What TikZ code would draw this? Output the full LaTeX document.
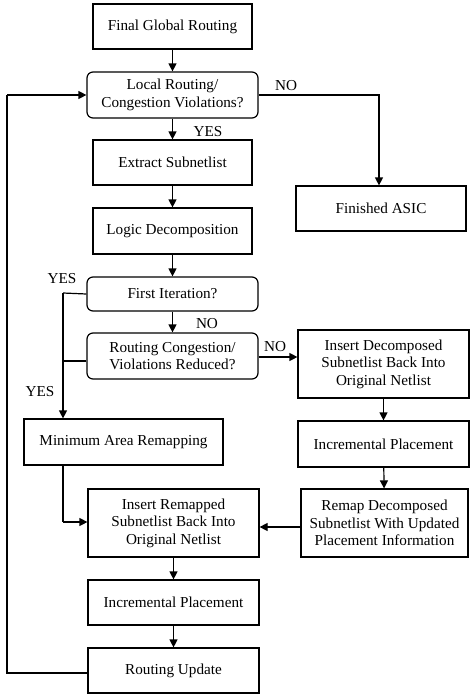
\documentclass[tikz,border=0pt]{standalone}
\usepackage{fontspec}
\setmainfont{Liberation Serif}
\usetikzlibrary{arrows.meta}
\begin{document}
\begin{tikzpicture}[x=1pt,y=-1pt,
  every node/.style={font=\fontsize{15.2}{17.6}\selectfont},
  box/.style={draw,line width=1.2pt,align=center,inner sep=0pt,minimum width=#1},
  rbox/.style={box=#1,rounded corners=6pt},
  lbl/.style={inner sep=0pt},
  arr/.style={line width=1.2pt,-{Triangle[length=8pt,width=8pt]}},
  ln/.style={line width=1.2pt}]
\useasboundingbox (0,0) rectangle (474,696);
\node[box=159pt,minimum height=45pt] (final) at (172.5,26.5) {Final Global Routing};
\node[rbox=171pt,minimum height=46pt] (local) at (172.5,95) {Local Routing/\\Congestion Violations?};
\node[box=159pt,minimum height=45pt] (extract) at (172.5,162.5) {Extract Subnetlist};
\node[box=159pt,minimum height=46pt] (logic) at (172.5,231) {Logic Decomposition};
\node[rbox=171pt,minimum height=34pt] (first) at (172.5,294) {First Iteration?};
\node[rbox=171pt,minimum height=46pt] (cong) at (172.5,356) {Routing Congestion/\\Violations Reduced?};
\node[box=199pt,minimum height=46pt] (minarea) at (123.5,442) {Minimum Area Remapping};
\node[box=171pt,minimum height=68pt] (insrem) at (173.5,523) {Insert Remapped\\Subnetlist Back Into\\Original Netlist};
\node[box=171pt,minimum height=45pt] (incpl) at (173.5,602.5) {Incremental Placement};
\node[box=171pt,minimum height=45pt] (rupd) at (173.5,670.5) {Routing Update};
\node[box=170pt,minimum height=45pt] (asic) at (381,208.5) {Finished ASIC};
\node[box=171pt,minimum height=68pt] (insdec) at (383.5,364) {Insert Decomposed\\Subnetlist Back Into\\Original Netlist};
\node[box=171pt,minimum height=46pt] (incpl2) at (383.5,444) {Incremental Placement};
\node[box=167pt,minimum height=68pt] (remap) at (384.5,523) {Remap Decomposed\\Subnetlist With Updated\\Placement Information};
% coordinates
\coordinate (nocorner) at (379,95);
\coordinate (yesA) at (63,293);
\coordinate (yesB) at (63,361);
\coordinate (minin) at (63,522);
\coordinate (fbA) at (7,673);
\coordinate (fbB) at (7,95);
% connectors
\draw[arr] (final) -- (local);
\draw[arr] (local) -- (extract);
\draw[arr] (extract) -- (logic);
\draw[arr] (logic) -- (first);
\draw[arr] (first) -- (cong);
\draw[arr] (local.east) -- (nocorner) -- (nocorner |- asic.north);
\draw[ln] (first.west) -- (yesA);
\draw[arr] (yesA) -- (yesA |- minarea.north);
\draw[ln] (cong.west |- yesB) -- (yesB);
\draw[arr] (cong.east |- 0,357) -- (insdec.west |- 0,357);
\draw[arr] (insdec) -- (incpl2);
\draw[arr] (incpl2) -- (remap);
\draw[arr] (remap.west |- 0,527) -- (insrem.east |- 0,527);
\draw[ln] (minarea.south -| minin) -- (minin);
\draw[arr] (minin) -- (insrem.west |- minin);
\draw[arr] (insrem) -- (incpl);
\draw[arr] (incpl) -- (rupd);
\draw[ln] (rupd.west |- fbA) -- (fbA) -- (fbB);
\draw[arr] (fbB) -- (local.west);
% labels
\node[lbl] (yes1) at (208,132) {YES};
\node[lbl] (no1) at (286,86) {NO};
\node[lbl] (yes2) at (62,279) {YES};
\node[lbl] (no2) at (207,324) {NO};
\node[lbl] (yes3) at (40,392) {YES};
\node[lbl] (no3) at (275,347) {NO};
\end{tikzpicture}
\end{document}
